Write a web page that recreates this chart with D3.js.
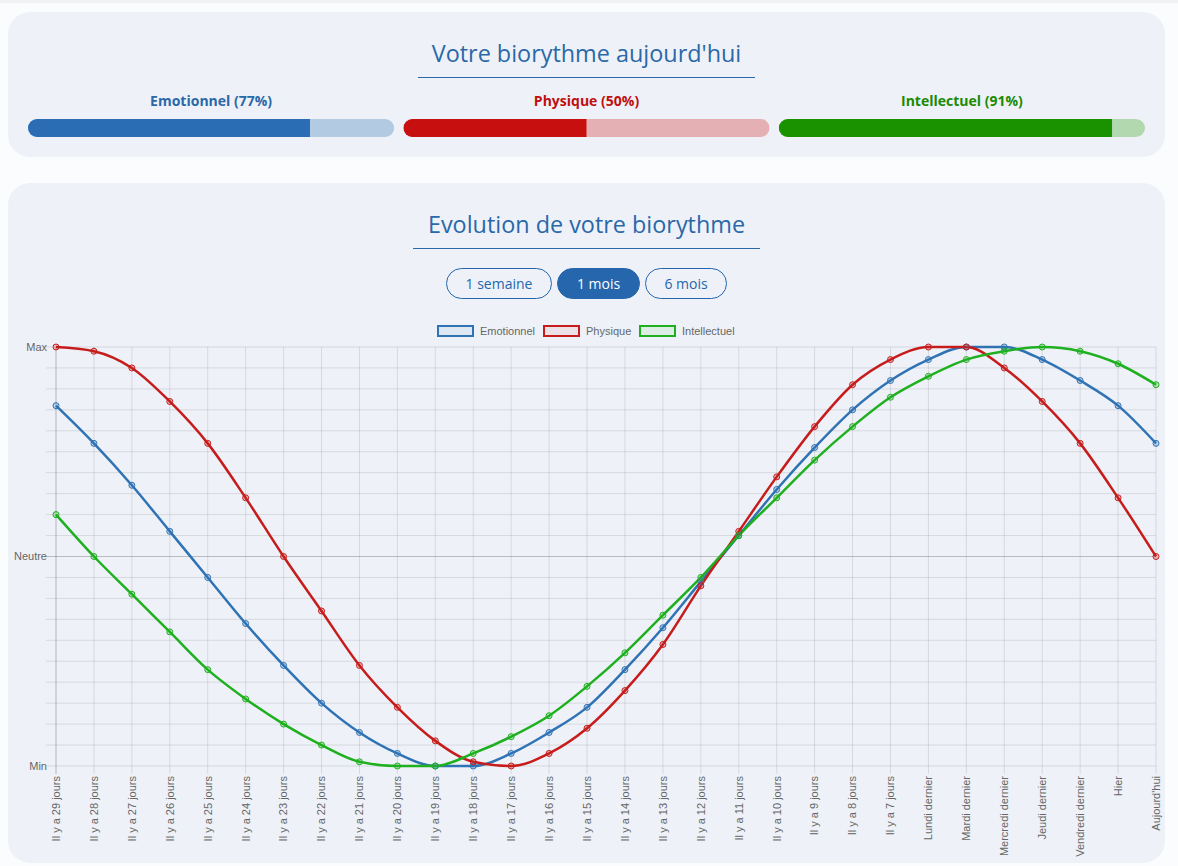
<!DOCTYPE html>
<html>
<head>
<meta charset="utf-8">
<script src="https://cdn.jsdelivr.net/npm/d3@7/dist/d3.min.js"></script>
<style>
  html, body { margin: 0; padding: 0; background: #fbfcfd; }
  svg { display: block; }
</style>
</head>
<body>
<svg id="chart" width="1178" height="866"></svg>
<script>
// ---------- DATA ----------
const todayNames = ["Emotionnel", "Physique", "Intellectuel"];
const todayValues = [77, 50, 91];

const periodButtons = ["1 semaine", "1 mois", "6 mois"];
const activeButton = "1 mois";

const dayLabels = [
  "Il y a 29 jours", "Il y a 28 jours", "Il y a 27 jours", "Il y a 26 jours", "Il y a 25 jours",
  "Il y a 24 jours", "Il y a 23 jours", "Il y a 22 jours", "Il y a 21 jours", "Il y a 20 jours",
  "Il y a 19 jours", "Il y a 18 jours", "Il y a 17 jours", "Il y a 16 jours", "Il y a 15 jours",
  "Il y a 14 jours", "Il y a 13 jours", "Il y a 12 jours", "Il y a 11 jours", "Il y a 10 jours",
  "Il y a 9 jours", "Il y a 8 jours", "Il y a 7 jours", "Lundi dernier", "Mardi dernier",
  "Mercredi dernier", "Jeudi dernier", "Vendredi dernier", "Hier", "Aujourd'hui"
];

const emotionnel = [86, 77, 67, 56, 45, 34, 24, 15, 8, 3, 0, 0, 3, 8, 14, 23, 33, 44, 55, 66, 76, 85, 92, 97, 100, 100, 97, 92, 86, 77];
const physique = [100, 99, 95, 87, 77, 64, 50, 37, 24, 14, 6, 1, 0, 3, 9, 18, 29, 43, 56, 69, 81, 91, 97, 100, 100, 95, 87, 77, 64, 50];
const intellectuel = [60, 50, 41, 32, 23, 16, 10, 5, 1, 0, 0, 3, 7, 12, 19, 27, 36, 45, 55, 64, 73, 81, 88, 93, 97, 99, 100, 99, 96, 91];

const yTickLabels = [[0, "Min"], [50, "Neutre"], [100, "Max"]];

// ---------- STYLE ----------
const titleBlue = "#2a68a8";
const barColors = [
  { dark: "#2a6db5", light: "#b3cae3", text: "#2a68a8" },
  { dark: "#c70f0f", light: "#e5b0b3", text: "#c00f0f" },
  { dark: "#1a9200", light: "#b2d8b0", text: "#1a8a00" }
];
const lineColors = ["#2f73b5", "#c71c1c", "#1fb01f"];
const series = [
  { name: "Emotionnel", values: emotionnel, color: lineColors[0] },
  { name: "Physique", values: physique, color: lineColors[1] },
  { name: "Intellectuel", values: intellectuel, color: lineColors[2] }
];

const svg = d3.select("#chart");
const cardFill = "#eef2f8";
const uiFont = "'Open Sans', 'Noto Sans', sans-serif";
const chartFont = "'Liberation Sans', Arial, sans-serif";

svg.append("rect").attr("x", 0).attr("y", 0).attr("width", 1178).attr("height", 3).attr("fill", "#f1f2f4");

// ---------- CARD 1 ----------
svg.append("rect").attr("x", 8).attr("y", 12).attr("width", 1157).attr("height", 145)
  .attr("rx", 22).attr("fill", cardFill);

svg.append("text").attr("x", 586.5).attr("y", 62).attr("text-anchor", "middle")
  .attr("font-family", uiFont).attr("font-size", 23.4).attr("fill", titleBlue)
  .text("Votre biorythme aujourd'hui");
svg.append("line").attr("x1", 418).attr("x2", 755).attr("y1", 77.5).attr("y2", 77.5)
  .attr("stroke", titleBlue).attr("stroke-width", 1.2);

const barGroupX = d3.scaleBand().domain(todayNames).range([28, 1145]).paddingInner(0.0245);
const pct = d3.scaleLinear().domain([0, 100]);
todayNames.forEach((n, i) => {
  const x0 = barGroupX(n), w = barGroupX.bandwidth();
  pct.range([0, w]);
  const clipId = "clip" + i;
  svg.append("clipPath").attr("id", clipId).append("rect")
    .attr("x", x0).attr("y", 119).attr("width", w).attr("height", 18).attr("rx", 9);
  const g = svg.append("g").attr("clip-path", `url(#${clipId})`);
  g.append("rect").attr("x", x0).attr("y", 119).attr("width", w).attr("height", 18).attr("fill", barColors[i].light);
  g.append("rect").attr("x", x0).attr("y", 119).attr("width", pct(todayValues[i])).attr("height", 18).attr("fill", barColors[i].dark);
  svg.append("text").attr("x", x0 + w / 2).attr("y", 106).attr("text-anchor", "middle")
    .attr("font-family", uiFont).attr("font-weight", 700).attr("font-size", 14)
    .attr("fill", barColors[i].text).text(`${n} (${todayValues[i]}%)`);
});

// ---------- CARD 2 ----------
svg.append("rect").attr("x", 8).attr("y", 183).attr("width", 1157).attr("height", 680)
  .attr("rx", 22).attr("fill", cardFill);

svg.append("text").attr("x", 586.5).attr("y", 233).attr("text-anchor", "middle")
  .attr("font-family", uiFont).attr("font-size", 23.4).attr("fill", titleBlue)
  .text("Evolution de votre biorythme");
svg.append("line").attr("x1", 413).attr("x2", 760).attr("y1", 248.5).attr("y2", 248.5)
  .attr("stroke", titleBlue).attr("stroke-width", 1.2);

const btnX = [446, 557, 645], btnW = [106, 83, 82];
periodButtons.forEach((b, i) => {
  const active = b === activeButton;
  svg.append("rect").attr("x", btnX[i] + 0.5).attr("y", 268.5).attr("width", btnW[i] - 1).attr("height", 30)
    .attr("rx", 15).attr("fill", active ? "#2566ad" : "none")
    .attr("stroke", "#2566ad").attr("stroke-width", 1);
  svg.append("text").attr("x", btnX[i] + btnW[i] / 2).attr("y", 288.5).attr("text-anchor", "middle")
    .attr("font-family", uiFont).attr("font-size", 14).attr("fill", active ? "#ffffff" : "#2566ad")
    .text(b);
});

const legendX = [438, 544, 640];
series.forEach((s, i) => {
  svg.append("rect").attr("x", legendX[i]).attr("y", 326).attr("width", 35).attr("height", 10)
    .attr("fill", d3.color(s.color).copy({ opacity: 0.08 })).attr("stroke", s.color).attr("stroke-width", 2);
  svg.append("text").attr("x", legendX[i] + 42).attr("y", 335).attr("font-family", chartFont)
    .attr("font-size", 11).attr("fill", "#666").text(s.name);
});

const plotLeft = 56, plotRight = 1156, plotTop = 347, plotBottom = 766;
const x = d3.scalePoint().domain(dayLabels).range([plotLeft, plotRight]);
const y = d3.scaleLinear().domain([0, 100]).range([plotBottom, plotTop]);

const grid = svg.append("g");
d3.range(0, 101, 5).forEach(v => {
  const isZero = v === 50;
  grid.append("line").attr("x1", plotLeft - 10).attr("x2", plotRight).attr("y1", y(v)).attr("y2", y(v))
    .attr("stroke", isZero ? "rgba(0,0,0,0.22)" : "rgba(0,0,0,0.1)").attr("stroke-width", 1);
});
dayLabels.forEach((d, i) => {
  grid.append("line").attr("x1", x(d)).attr("x2", x(d)).attr("y1", plotTop).attr("y2", plotBottom + 8)
    .attr("stroke", i === 0 ? "rgba(0,0,0,0.25)" : "rgba(0,0,0,0.1)").attr("stroke-width", 1);
});

yTickLabels.forEach(([v, t]) => {
  svg.append("text").attr("x", plotLeft - 9).attr("y", y(v)).attr("dy", "0.35em").attr("text-anchor", "end")
    .attr("font-family", chartFont).attr("font-size", 11).attr("fill", "#666").text(t);
});

dayLabels.forEach(d => {
  svg.append("text").attr("transform", `translate(${x(d)},${plotBottom + 10}) rotate(-90)`)
    .attr("dy", "0.35em").attr("text-anchor", "end")
    .attr("font-family", chartFont).attr("font-size", 11).attr("fill", "#666").text(d);
});

const line = d3.line().x((v, i) => x(dayLabels[i])).y(v => y(v)).curve(d3.curveMonotoneX);
series.forEach(s => {
  svg.append("path").attr("d", line(s.values)).attr("fill", "none")
    .attr("stroke", s.color).attr("stroke-width", 2.5);
});
series.forEach(s => {
  svg.append("g").selectAll("circle").data(s.values).join("circle")
    .attr("cx", (v, i) => x(dayLabels[i])).attr("cy", v => y(v)).attr("r", 3)
    .attr("fill", d3.color(s.color).copy({ opacity: 0.25 }))
    .attr("stroke", s.color).attr("stroke-width", 1);
});
</script>
</body>
</html>
